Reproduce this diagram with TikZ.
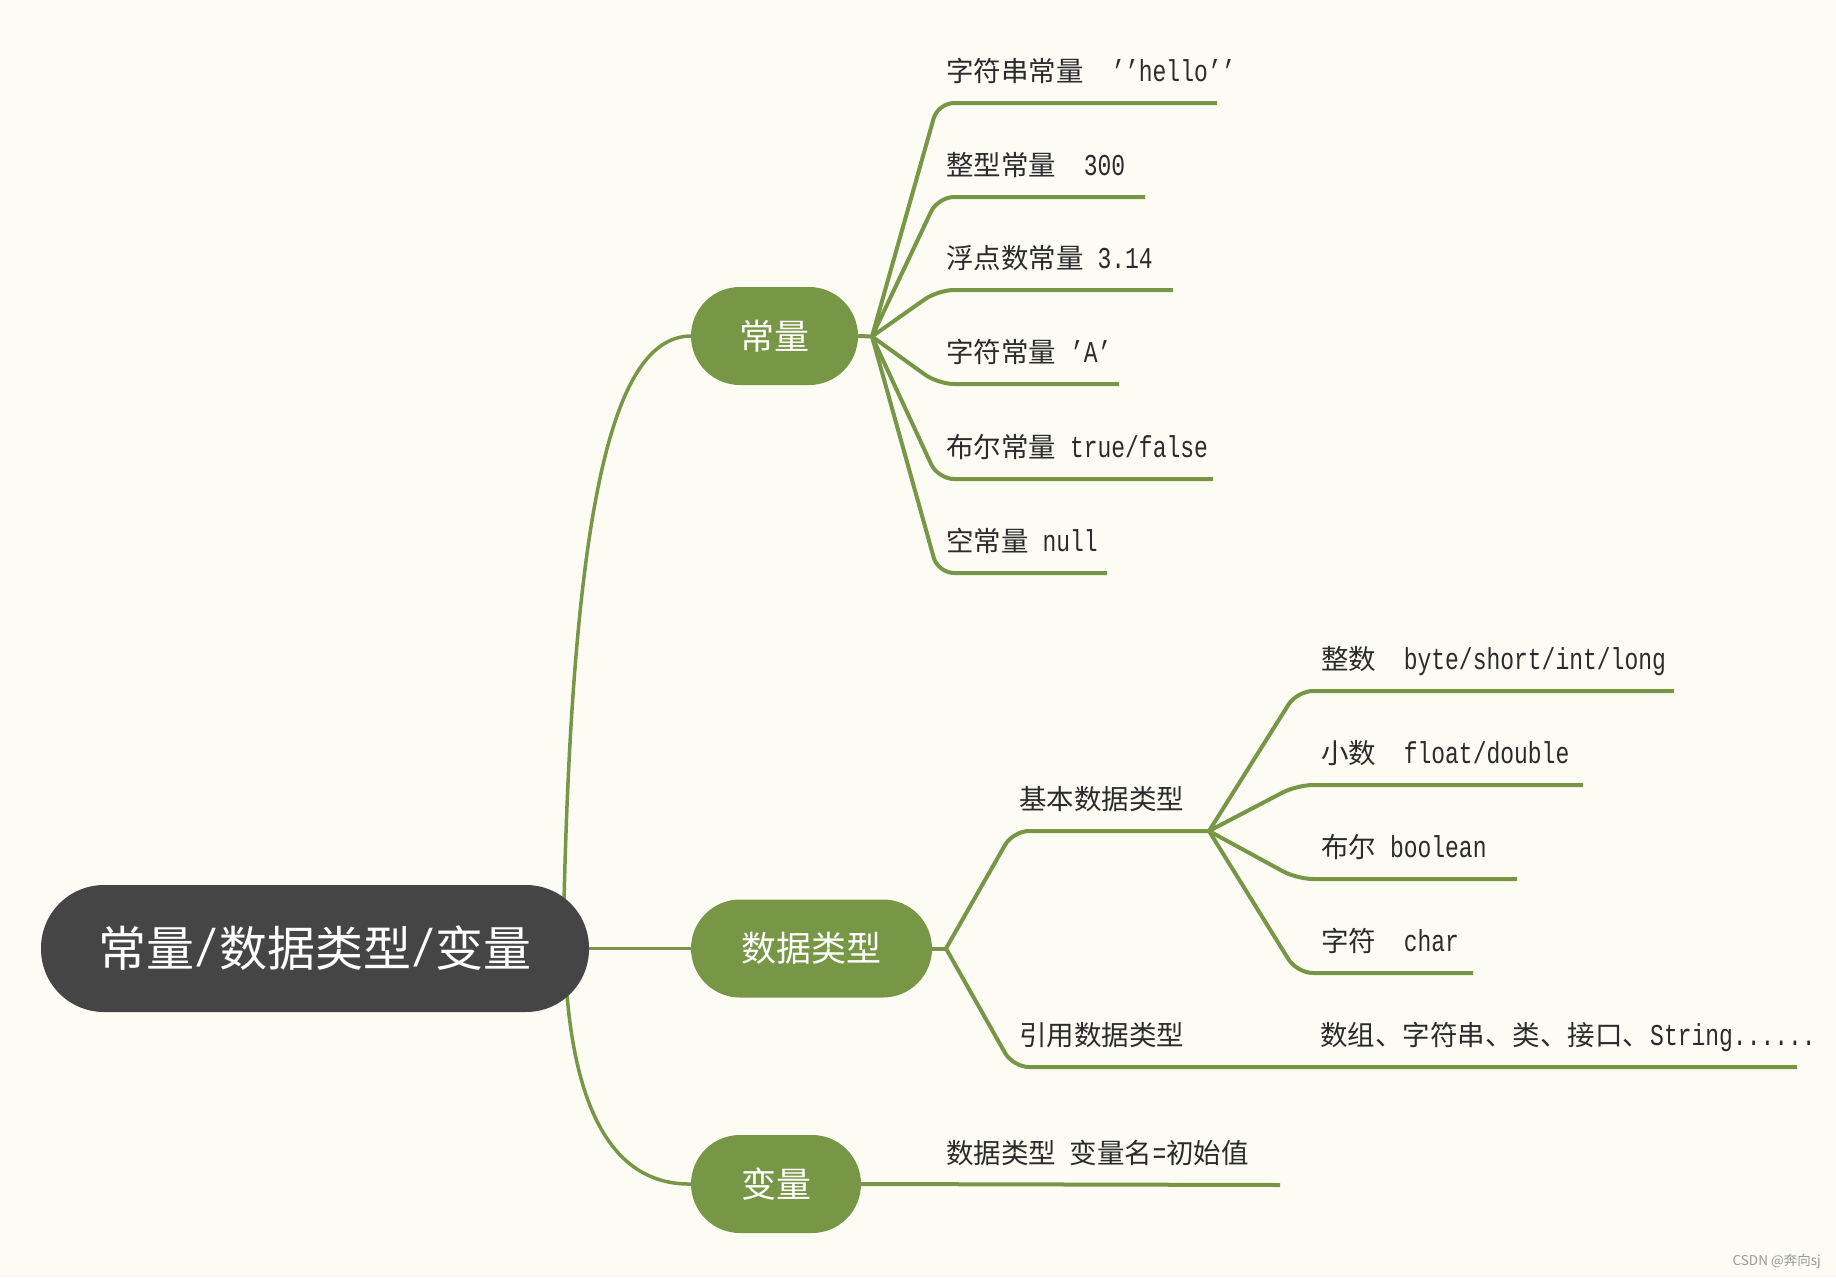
\documentclass[tikz,border=0pt]{standalone}
\usepackage{fontspec}
\setmainfont{Noto Sans CJK SC}
\newfontfamily\latn{Liberation Mono}[Scale=1.1,FakeStretch=0.76]
\newfontfamily\wmfont{Noto Sans CJK SC}
\newcommand\lat[1]{{\latn #1}}
\usetikzlibrary{backgrounds}
\definecolor{bgc}{HTML}{FCFCF5}
\definecolor{grn}{HTML}{789746}
\definecolor{darkc}{HTML}{454545}
\definecolor{txt}{HTML}{2B2B2B}
\begin{document}
\begin{tikzpicture}[x=1pt,y=-1pt,
  rootbox/.style={fill=darkc, text=white, rounded corners=63pt, minimum width=548pt, minimum height=127pt, inner sep=0pt, font=\fontsize{48}{56}\selectfont},
  mainbox/.style={fill=grn, text=white, rounded corners=49pt, minimum height=98pt, inner sep=0pt, font=\fontsize{35}{42}\selectfont},
  leaf/.style={anchor=base west, inner sep=0pt, text=txt, font=\fontsize{27.5}{33}\selectfont},
  trunk/.style={draw=grn, line width=3.5pt},
  twig/.style={draw=grn, line width=4pt, rounded corners=16pt, line join=round}
]
\useasboundingbox (0,0) rectangle (1836,1277);

% main nodes
\node[rootbox] (root) at (315,948.5) {常量\lat{/}数据类型\lat{/}变量};
\node[mainbox, minimum width=167pt] (c1) at (774.5,336) {常量};
\node[mainbox, minimum width=241pt] (c2) at (811.5,948.5) {数据类型};
\node[mainbox, minimum width=170pt] (c3) at (776,1184) {变量};

% constants leaves
\node[leaf] (a1) at (946,81)  {字符串常量\lat{~~’’hello’’}};
\node[leaf] (a2) at (946,175) {整型常量\lat{~~300}};
\node[leaf] (a3) at (946,268) {浮点数常量\lat{~3.14}};
\node[leaf] (a4) at (946,362) {字符常量\lat{~’A’}};
\node[leaf] (a5) at (946,457) {布尔常量\lat{~true/false}};
\node[leaf] (a6) at (946,551) {空常量\lat{~null}};

% data type leaves
\node[leaf] (b1) at (1019,809)  {基本数据类型};
\node[leaf] (b2) at (1019,1045) {引用数据类型};
\node[leaf] (b2x) at (1320,1045) {数组、字符串、类、接口、\lat{String......}};
\node[leaf] (d1) at (1321,669) {整数\lat{~~byte/short/int/long}};
\node[leaf] (d2) at (1321,763) {小数\lat{~~float/double}};
\node[leaf] (d3) at (1321,857) {布尔\lat{~boolean}};
\node[leaf] (d4) at (1321,951) {字符\lat{~~char}};

% variable leaf
\node[leaf] (v1) at (946,1163) {数据类型\lat{~}变量名\lat{=}初始值};

% watermark
\node[anchor=east, inner sep=0pt, text=black!40, font=\wmfont\fontsize{13.5}{16}\selectfont] (wm) at (1821,1261) {CSDN @奔向sj};

% coordinates
\coordinate (r1) at (564,902);
\coordinate (r3) at (567,995);
\coordinate (f1) at (872,336.5);
\coordinate (f2) at (946,948.5);
\coordinate (f3) at (1209,831);
\foreach \i/\y/\e in {1/103/1217, 2/197/1145, 3/290/1173, 4/384/1119, 5/479/1213, 6/573/1107}{
  \coordinate (k\i) at (938,\y);
  \coordinate (e\i) at (\e,\y);
}
\foreach \i/\y/\e in {1/691/1674, 2/785/1583, 3/879/1517, 4/973/1473}{
  \coordinate (m\i) at (1297,\y);
  \coordinate (n\i) at (\e,\y);
}
\coordinate (kb1) at (1013,831);
\coordinate (kb2) at (1013,1067);
\coordinate (eb2) at (1797,1067);
\coordinate (ev) at (1280,1185);

\begin{scope}[on background layer]
  \fill[bgc] (0,0) rectangle (1836,1277);
  \draw[trunk] (r1) .. controls (574,468) and (621,337) .. (c1.west);
  \draw[trunk] (root.east) -- (c2.west);
  \draw[trunk] (r3) .. controls (578,1124) and (621,1185) .. (c3.west);
  \draw[twig] (c1.east) -- (f1);
  \foreach \i in {1,...,6}{ \draw[twig] (f1) -- (k\i) -- (e\i); }
  \draw[twig] (c2.east) -- (f2);
  \draw[twig] (f2) -- (kb1) -- (f3);
  \draw[twig] (f2) -- (kb2) -- (eb2);
  \foreach \i in {1,...,4}{ \draw[twig] (f3) -- (m\i) -- (n\i); }
  \draw[twig] (c3.east) -- (ev);
\end{scope}
\end{tikzpicture}
\end{document}
